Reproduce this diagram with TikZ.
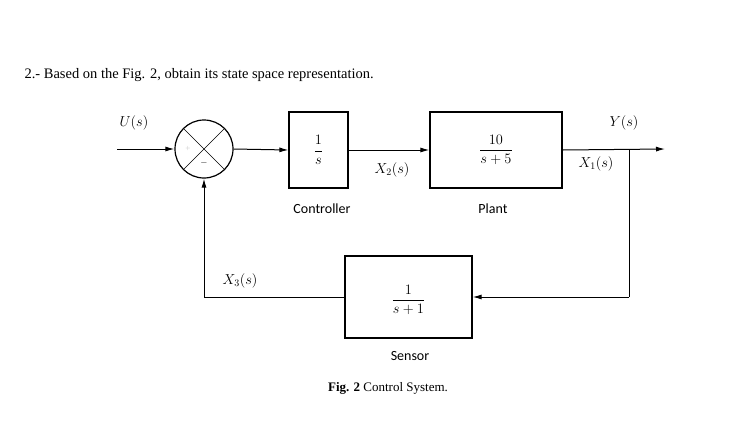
\documentclass[tikz,border=0pt]{standalone}
\usepackage{fontspec}
\setmainfont{Liberation Serif}
\newfontfamily\calfont{Carlito}
\usetikzlibrary{arrows.meta}
\begin{document}
\begin{tikzpicture}[x=1pt,y=-1pt,
  blk/.style={draw,line width=1.2pt,inner sep=0},
  ar/.style={-{Latex[length=9pt,width=5pt]},line width=1pt},
  ln/.style={line width=1pt},
  lab/.style={font=\fontsize{14}{16}\selectfont},
  sf/.style={font=\calfont\fontsize{14}{16}\selectfont}]
\useasboundingbox (0,0) rectangle (733,426);
\node[anchor=west,font=\fontsize{14.5}{17}\selectfont] (title) at (21,75) {2.- Based on the Fig. 2, obtain its state space representation.};
\node[circle,draw,line width=1.2pt,minimum size=58pt,inner sep=0] (sum) at (204,149) {};
\draw[line width=0.4pt] (sum.45)--(sum.225) (sum.135)--(sum.315);
\node[text=gray!40,font=\small] (plus) at (188,149) {+};
\node[font=\small] (minus) at (204,163) {$-$};
\node[blk,minimum width=59pt,minimum height=76pt] (ctrl) at (318.5,150) {};
\node[lab] (cf) at (318.5,150) {$\displaystyle\frac{1}{s}$};
\node[blk,minimum width=132pt,minimum height=76pt] (plant) at (496,150) {};
\node[lab] (pf) at (496,150) {$\displaystyle\frac{10}{s+5}$};
\node[blk,minimum width=127pt,minimum height=82pt] (sens) at (408.5,297) {};
\node[lab] (sfr) at (408.5,300) {$\displaystyle\frac{1}{s+1}$};
\coordinate (in) at (117,149);
\coordinate (out) at (665,149);
\coordinate (tap) at (629,149);
\coordinate (tapd) at (629,297);
\coordinate (fbl) at (204,297);
\draw[ar] (in) -- (sum.west);
\draw[ar] (sum.east) -- (ctrl.west);
\draw[ar] (ctrl.east) -- (plant.west);
\draw[ar] (plant.east) -- (out);
\draw[ln] (tap) -- (tapd);
\draw[ar] (tapd) -- (sens.east);
\draw[ln] (sens.west) -- (fbl);
\draw[ar] (fbl) -- (sum.south);
\node[lab] (u) at (134,123) {$U(s)$};
\node[lab] (y) at (624,123) {$Y(s)$};
\node[lab] (x1) at (596,164) {$X_1(s)$};
\node[lab] (x2) at (392,170) {$X_2(s)$};
\node[lab] (x3) at (240,281) {$X_3(s)$};
\node[sf] (cl) at (322,209) {Controller};
\node[sf] (pl) at (493,209) {Plant};
\node[sf] (sl) at (410,356) {Sensor};
\node[font=\fontsize{13}{15}\selectfont] (cap) at (388,388) {\textbf{Fig. 2} Control System.};
\end{tikzpicture}
\end{document}
